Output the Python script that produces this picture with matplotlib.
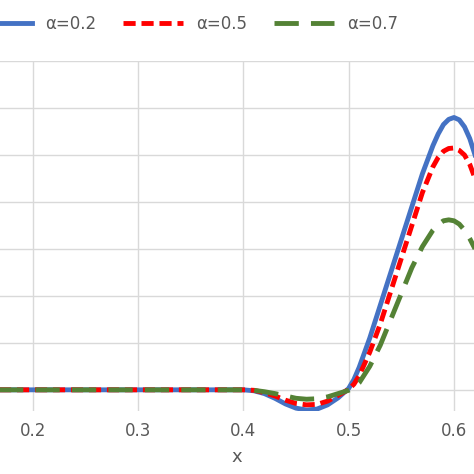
import numpy as np
import matplotlib.pyplot as plt

x = [0.15, 0.2, 0.3, 0.4, 0.41, 0.42, 0.43, 0.44, 0.45, 0.46, 0.47, 0.48, 0.49, 0.50,
     0.505, 0.51, 0.52, 0.53, 0.54, 0.55, 0.56, 0.57, 0.58, 0.585, 0.59, 0.595, 0.60,
     0.605, 0.61, 0.615, 0.62]
a02 = [0, 0, 0, 0, -0.02, -0.08, -0.18, -0.3, -0.39, -0.43, -0.41, -0.32, -0.17, 0.03,
       0.22, 0.48, 1.1, 1.8, 2.5, 3.2, 3.9, 4.6, 5.2, 5.45, 5.65, 5.76, 5.8, 5.75, 5.6, 5.35, 5.0]
a05 = [0, 0, 0, 0, -0.01, -0.06, -0.13, -0.22, -0.29, -0.32, -0.31, -0.24, -0.12, 0.01,
       0.12, 0.3, 0.8, 1.4, 2.1, 2.8, 3.5, 4.2, 4.75, 4.95, 5.08, 5.14, 5.15, 5.1, 5.0, 4.8, 4.5]
a07 = [0, 0, 0, 0, -0.01, -0.04, -0.08, -0.13, -0.18, -0.2, -0.19, -0.15, -0.08, -0.01,
       0.05, 0.15, 0.5, 0.95, 1.5, 2.05, 2.6, 3.05, 3.4, 3.52, 3.6, 3.62, 3.6, 3.53, 3.4, 3.22, 3.0]

fig = plt.figure(figsize=(4.74, 4.74), dpi=100)
ax = fig.add_axes([0, 0.133, 1, 0.738])
ax.plot(x, a02, color='#4472C4', lw=3.5, label='α=0.2')
ax.plot(x, a05, color='#FF0000', lw=3.5, ls=(0, (2.5, 1.2)), label='α=0.5')
ax.plot(x, a07, color='#548235', lw=3.5, ls=(0, (5, 2.5)), label='α=0.7')
ax.set_xlim(0.169, 0.619)
ax.set_ylim(-0.45, 7)
ax.set_xticks([0.2, 0.3, 0.4, 0.5, 0.6])
ax.set_xticklabels(['0.2', '0.3', '0.4', '0.5', '0.6'])
ax.set_yticks(range(0, 8))
ax.set_yticklabels([])
ax.grid(color='#d9d9d9', lw=1)
for s in ax.spines.values():
    s.set_visible(False)
ax.tick_params(length=0, labelsize=12, labelcolor='#595959', pad=8)
ax.set_xlabel('x', fontsize=13, color='#595959', labelpad=6)
fig.legend(loc='upper center', bbox_to_anchor=(0.39, 1.0), ncol=3, frameon=False,
           fontsize=12, handlelength=3.6, columnspacing=1.6, labelcolor='#595959')
fig.savefig('out.png', dpi=100)
